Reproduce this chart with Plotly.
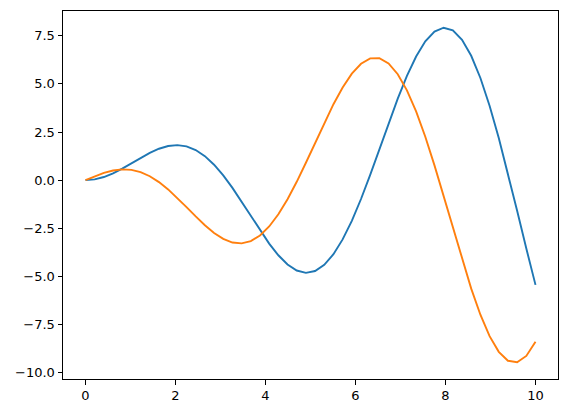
import plotly.graph_objects as go

X_VALUES = [
    0.0, 0.2041, 0.4082, 0.6122, 0.8163, 1.0204, 1.2245, 1.4286, 1.6327, 1.8367,
    2.0408, 2.2449, 2.4490, 2.6531, 2.8571, 3.0612, 3.2653, 3.4694, 3.6735, 3.8776,
    4.0816, 4.2857, 4.4898, 4.6939, 4.8980, 5.1020, 5.3061, 5.5102, 5.7143, 5.9184,
    6.1224, 6.3265, 6.5306, 6.7347, 6.9388, 7.1429, 7.3469, 7.5510, 7.7551, 7.9592,
    8.1633, 8.3673, 8.5714, 8.7755, 8.9796, 9.1837, 9.3878, 9.5918, 9.7959, 10.0,
]

BLUE_VALUES = [
    0.0, 0.041, 0.162, 0.352, 0.595, 0.870, 1.152, 1.414, 1.630, 1.772,
    1.819, 1.754, 1.564, 1.245, 0.802, 0.246, -0.403, -1.117, -1.863, -2.604,
    -3.296, -3.901, -4.380, -4.693, -4.814, -4.720, -4.398, -3.847, -3.078, -2.112,
    -0.980, 0.274, 1.599, 2.939, 4.230, 5.411, 6.422, 7.207, 7.718, 7.915,
    7.776, 7.289, 6.459, 5.306, 3.867, 2.193, 0.347, -1.594, -3.552, -5.440,
]

ORANGE_VALUES = [
    0.0, 0.200, 0.375, 0.501, 0.559, 0.534, 0.416, 0.202, -0.101, -0.483,
    -0.925, -1.401, -1.885, -2.343, -2.742, -3.051, -3.241, -3.285, -3.166, -2.874,
    -2.407, -1.774, -0.988, -0.087, 0.904, 1.938, 2.968, 3.945, 4.814, 5.529,
    6.043, 6.321, 6.332, 6.060, 5.500, 4.662, 3.568, 2.254, 0.766, -0.836,
    -2.485, -4.109, -5.635, -6.990, -8.104, -8.918, -9.381, -9.459, -9.129, -8.391,
]

X_TICKS = [0, 2, 4, 6, 8, 10]
Y_TICKS = [-10.0, -7.5, -5.0, -2.5, 0.0, 2.5, 5.0, 7.5]
Y_TICK_TEXT = ["−10.0", "−7.5", "−5.0", "−2.5", "0.0", "2.5", "5.0", "7.5"]

fig = go.Figure()
fig.add_trace(go.Scatter(x=X_VALUES, y=BLUE_VALUES, mode="lines",
                         line=dict(color="#1f77b4", width=1.9)))
fig.add_trace(go.Scatter(x=X_VALUES, y=ORANGE_VALUES, mode="lines",
                         line=dict(color="#ff7f0e", width=1.9)))

axis_style = dict(
    showline=True, linecolor="black", linewidth=1, mirror=True,
    ticks="outside", ticklen=4.5, tickwidth=1, tickcolor="black",
    showgrid=False, zeroline=False,
    tickfont=dict(family="DejaVu Sans", size=13, color="black"),
)

fig.update_layout(
    width=568, height=413,
    margin=dict(l=62.5, r=9.7, t=10.5, b=33.7),
    plot_bgcolor="white", paper_bgcolor="white",
    showlegend=False,
)
fig.update_xaxes(range=[-0.5, 10.5], tickvals=X_TICKS, **axis_style)
fig.update_yaxes(range=[-10.328, 8.784], tickvals=Y_TICKS, ticktext=Y_TICK_TEXT, **axis_style)

# the page's default body margin would shift the figure by 8px
fig.write_html(
    "out.html",
    config={"displayModeBar": False},
    post_script="document.body.style.margin='0';",
)
